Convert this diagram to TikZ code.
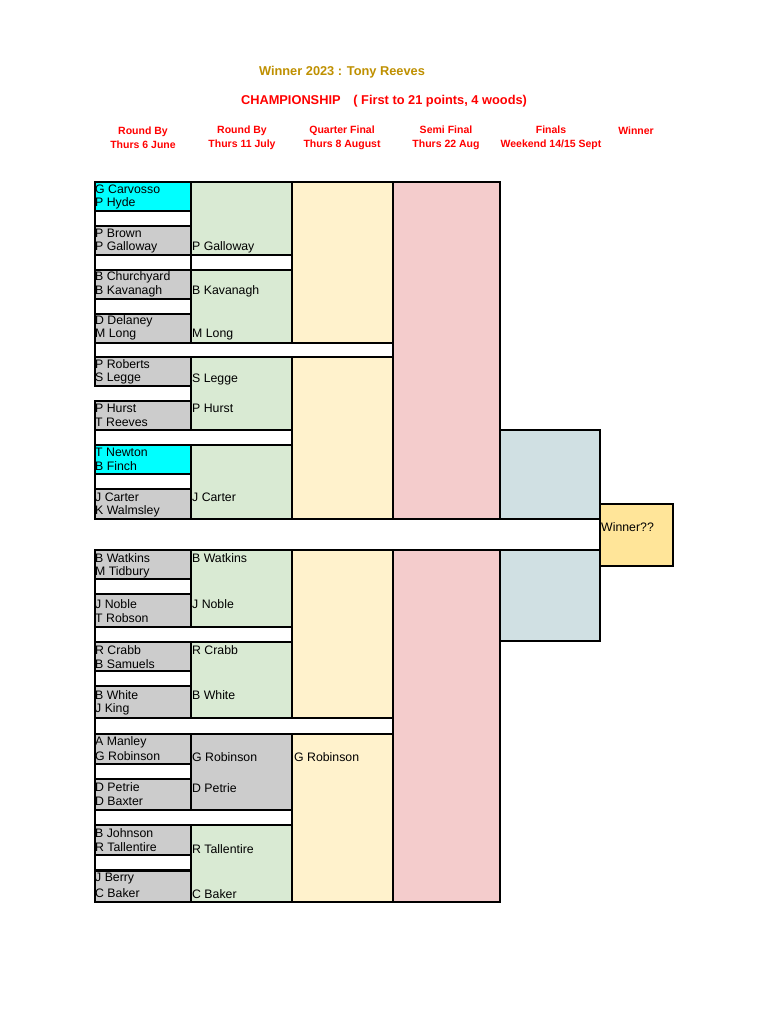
\documentclass[tikz,border=0pt]{standalone}
\usepackage{fontspec}
\setmainfont{Liberation Sans}
\definecolor{cy}{HTML}{00FFFF}
\definecolor{gr}{HTML}{CCCCCC}
\definecolor{gn}{HTML}{D9EAD3}
\definecolor{ye}{HTML}{FFF2CC}
\definecolor{pk}{HTML}{F4CCCC}
\definecolor{bl}{HTML}{D0E0E3}
\definecolor{wn}{HTML}{FFE599}
\definecolor{gold}{HTML}{BF9000}
\newcommand{\cell}[5]{\draw[line width=1.3pt,fill=#5] (#1,#2) rectangle (#3,#4);}
\begin{document}
\begin{tikzpicture}[x=1pt,y=-1pt,
  nm/.style={anchor=west,inner sep=0pt,font=\fontsize{12.3}{13}\selectfont},
  hd/.style={font=\bfseries\fontsize{10.5}{14}\selectfont,text=red,align=center,inner sep=0pt}]
\fill[white] (0,0) rectangle (768,1024);
\useasboundingbox (0,0) rectangle (768,1024);
\node[font=\bfseries\fontsize{12.8}{14}\selectfont,text=gold] (t1) at (342,72) {Winner 2023 : Tony Reeves};
\node[font=\bfseries\fontsize{12.8}{14}\selectfont,text=red] (t2) at (384,101) {CHAMPIONSHIP\quad( First to 21 points, 4 woods)};
\node[hd] (h1) at (143,138) {Round By\\Thurs 6 June};
\node[hd] (h2) at (242,138) {Round By\\Thurs 11 July};
\node[hd] (h3) at (342,138) {Quarter Final\\Thurs 8 August};
\node[hd] (h4) at (446,138) {Semi Final\\Thurs 22 Aug};
\node[hd] (h5) at (551,138) {Finals\\Weekend 14/15 Sept};
\node[hd] (h6) at (636,131) {Winner};
% big columns
\cell{393}{182}{500}{519}{pk}
\cell{393}{550}{500}{902}{pk}
\cell{500}{430}{600}{519}{bl}
\cell{500}{550}{600}{641}{bl}
\cell{600}{504}{673}{566}{wn}
\node[nm] (w) at (601,527) {Winner??};
% quarter
\cell{292}{182}{393}{343}{ye}
\cell{292}{357}{393}{519}{ye}
\cell{292}{550}{393}{718}{ye}
\cell{292}{734}{393}{902}{ye}
\cell{95}{343}{393}{357}{white}
\cell{95}{718}{393}{734}{white}
% round 2
\cell{191}{182}{292}{255}{gn}
\cell{191}{255}{292}{270}{white}
\cell{191}{270}{292}{343}{gn}
\cell{191}{357}{292}{430}{gn}
\cell{95}{430}{292}{445}{white}
\cell{191}{445}{292}{519}{gn}
\cell{191}{550}{292}{627}{gn}
\cell{95}{627}{292}{642}{white}
\cell{191}{642}{292}{718}{gn}
\cell{191}{734}{292}{810}{gr}
\cell{95}{810}{292}{825}{white}
\cell{191}{825}{292}{902}{gn}
% round 1
\foreach \a/\b/\c in {182/211/cy,226/255/gr,270/299/gr,314/343/gr,357/386/gr,401/430/gr,445/474/cy,489/519/gr,550/579/gr,594/627/gr,642/671/gr,686/718/gr,734/764/gr,779/810/gr,825/855/gr,871/902/gr}{
  \cell{95}{\a}{191}{\b}{\c}}
\foreach \a in {211,255,299,474,579,671,764,855}{\cell{95}{\a}{191}{\a+15}{white}}
% names round 1
\foreach \y/\p/\q [count=\i] in {182/G Carvosso/P Hyde,226/P Brown/P Galloway,270/B Churchyard/B Kavanagh,314/D Delaney/M Long,357/P Roberts/S Legge,401/P Hurst/T Reeves,445/T Newton/B Finch,490/J Carter/K Walmsley,551/B Watkins/M Tidbury,597/J Noble/T Robson,643/R Crabb/B Samuels,688/B White/J King,735/A Manley/G Robinson,780/D Petrie/D Baxter,826/B Johnson/R Tallentire,872/J Berry/C Baker}{
  \node[nm] (a\i) at (95,\y+7) {\p};
  \node[nm] (b\i) at (95,\y+21) {\q};}
% names round 2
\foreach \y/\p [count=\i] in {247/P Galloway,291/B Kavanagh,335/M Long,379/S Legge,408/P Hurst,497/J Carter,558/B Watkins,604/J Noble,650/R Crabb,695/B White,757/G Robinson,788/D Petrie,849/R Tallentire,894/C Baker}{
  \node[nm] (c\i) at (192,\y) {\p};}
\node[nm] (q1) at (294,757) {G Robinson};
\end{tikzpicture}
\end{document}
